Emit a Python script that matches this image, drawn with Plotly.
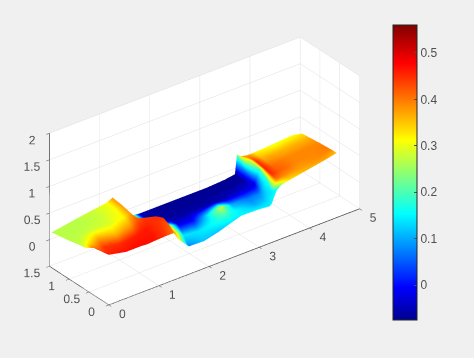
import plotly.graph_objects as go

x_stations = [0, .15, .45, .8, 1.1, 1.22, 1.35, 1.6, 1.75, 1.85, 2.05, 2.35, 2.65, 2.9, 3.1, 3.45, 3.66, 3.70, 3.8, 3.9, 4.05, 4.4, 4.8, 5]
y_stations = [1.45, 1.23, 1.01, .84, .71, .575]

# heights, one row per x station, one column per y station
z_values = [
    [.16, .19, .22, .25, .27, .29],
    [.18, .21, .24, .26, .25, .24],
    [.23, .25, .26, .18, .08, .00],
    [.28, .28, .24, .13, .02, -.07],
    [.32, .30, .26, .18, .05, -.07],
    [.375, .35, .31, .26, .10, -.08],
    [.10, .12, .14, .24, .12, -.07],
    [-.10, -.12, -.10, .18, .12, -.06],
    [-.12, -.12, -.10, .10, .05, -.06],
    [-.12, -.12, -.11, -.08, -.13, -.22],
    [-.12, -.12, -.12, -.14, -.28, -.42],
    [-.12, -.12, -.12, -.17, -.31, -.43],
    [-.12, -.12, -.12, -.17, -.27, -.36],
    [-.12, -.12, -.12, -.11, -.21, -.28],
    [-.12, -.12, -.12, -.14, -.18, -.22],
    [-.10, -.10, -.10, -.15, -.20, -.23],
    [-.07, -.08, -.10, -.15, -.22, -.25],
    [.28, .02, -.06, -.12, -.19, -.22],
    [.22, .25, .20, .08, -.08, .00],
    [.20, .20, .17, .14, .11, .07],
    [.20, .18, .16, .14, .13, .10],
    [.22, .22, .21, .20, .18, .16],
    [.25, .25, .25, .24, .23, .23],
    [.21, .23, .25, .26, .27, .27],
]

# colour values on the same grid
color_values = [
    [.27, .27, .27, .27, .27, .27],
    [.27, .27, .27, .28, .33, .42],
    [.27, .27, .28, .37, .44, .46],
    [.28, .28, .29, .36, .45, .47],
    [.31, .31, .32, .38, .46, .47],
    [.38, .38, .38, .42, .46, .47],
    [.36, .37, .38, .44, .46, .47],
    [.30, .30, .32, .45, .44, .44],
    [-.06, -.05, .05, .45, .42, .40],
    [-.06, -.06, -.04, .30, .38, .33],
    [-.07, -.07, -.06, -.02, .14, .08],
    [-.07, -.07, -.06, .00, .14, .12],
    [-.07, -.07, -.06, .15, .16, .12],
    [-.07, -.07, -.05, .28, .19, .14],
    [-.07, -.07, -.05, .10, .15, .15],
    [-.07, -.07, -.03, .07, .10, .15],
    [-.07, -.06, -.02, .08, .12, .15],
    [.22, .03, -.02, .09, .13, .15],
    [.38, .30, .21, .17, .14, .16],
    [.38, .45, .46, .45, .40, .25],
    [.32, .37, .41, .42, .39, .33],
    [.30, .36, .39, .39, .38, .36],
    [.31, .36, .39, .39, .39, .37],
    [.33, .37, .39, .40, .39, .35],
]

x_ticks = [0, 1, 2, 3, 4, 5]
y_ticks = [0, 0.5, 1, 1.5]
z_ticks = [0, 0.5, 1, 1.5, 2]
cbar_ticks = [0, 0.1, 0.2, 0.3, 0.4, 0.5]
x_range = [0, 5]
y_range = [0, 1.5]
z_range = [-0.5, 2]
color_range = [-0.075, 0.56]

jet = [[0, "#00008f"], [.11, "#0000ff"], [.36, "#00ffff"], [.61, "#ffff00"], [.87, "#ff0000"], [1, "#800000"]]
TEXT = "#505050"
FONT = dict(family="Liberation Sans", size=12, color=TEXT)

fig = go.Figure(go.Surface(
    x=x_stations, y=y_stations, z=[list(c) for c in zip(*z_values)],
    surfacecolor=[list(c) for c in zip(*color_values)],
    colorscale=jet, cmin=color_range[0], cmax=color_range[1],
    lighting=dict(ambient=1, diffuse=0, specular=0, roughness=1, fresnel=0),
    hoverinfo="skip",
    contours=dict(x=dict(highlight=False), y=dict(highlight=False), z=dict(highlight=False)),
    colorbar=dict(
        x=393/474, xanchor="left", xpad=0, y=1-25/358, yanchor="top", ypad=0,
        thickness=24, thicknessmode="pixels", len=295, lenmode="pixels",
        tickvals=cbar_ticks, ticks="inside", ticklen=3, tickcolor=TEXT,
        outlinecolor="#262626", outlinewidth=1, tickfont=FONT,
    ),
))

def axis(rng, ticks):
    return dict(range=rng, tickvals=ticks, title=dict(text=""), tickfont=FONT, tickangle=0,
                showgrid=True, gridcolor="#dedede", gridwidth=1, zeroline=False,
                showline=True, linecolor="#404040", linewidth=1.5,
                ticks="outside", ticklen=4, tickcolor="#404040",
                showbackground=True, backgroundcolor="white", showspikes=False)

d = 2.0
fig.update_layout(
    width=474, height=358, margin=dict(l=0, r=0, t=0, b=0),
    paper_bgcolor="#f0f0f0", font=FONT,
    scene=dict(
        domain=dict(x=[0, 409/474], y=[16/358, 1]),
        xaxis=axis(x_range, x_ticks), yaxis=axis(y_range, y_ticks), zaxis=axis(z_range, z_ticks),
        aspectmode="manual", aspectratio=dict(x=1.848, y=.571, z=.898),
        camera=dict(projection=dict(type="orthographic"), up=dict(x=0, y=0, z=1),
                    center=dict(x=0, y=0, z=0), eye=dict(x=-.527*d, y=-.687*d, z=.5*d)),
        bgcolor="#f0f0f0",
    ),
)
fig.write_html("out.html", config=dict(displayModeBar=False),
               post_script="document.body.style.margin='0';document.body.style.background='#f0f0f0';")
